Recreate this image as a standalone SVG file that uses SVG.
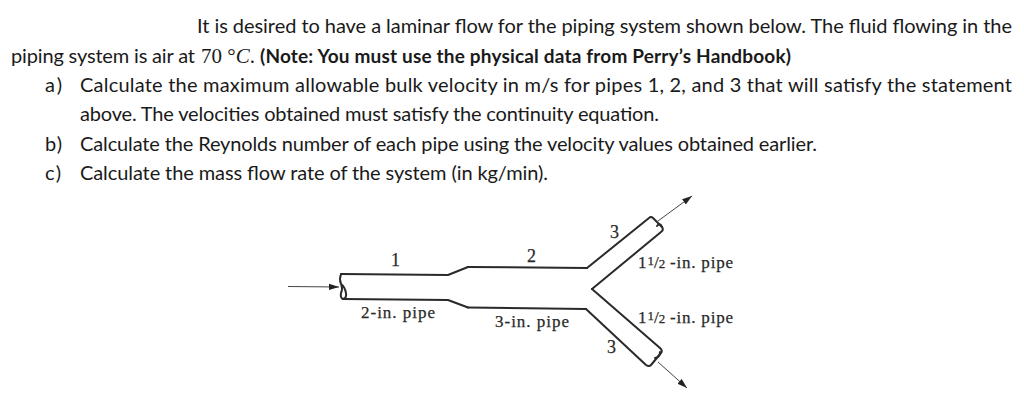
<svg xmlns="http://www.w3.org/2000/svg" width="1024" height="403" viewBox="0 0 1024 403">
<style>
.t{font-family:"Lato","Open Sans",sans-serif;font-size:20px;fill:#1a1a1a}
.b{font-weight:700;font-size:19px}
.m{font-family:"Liberation Serif",serif;font-size:21px;fill:#1a1a1a}
.s{font-family:"Liberation Serif",serif;font-size:17px;fill:#2a2a2a;stroke:#2a2a2a;stroke-width:.25}
.n{font-size:18px}
.p{fill:none;stroke:#2a2a2a;stroke-width:2;stroke-linejoin:round;stroke-linecap:round}
.a{fill:none;stroke:#444;stroke-width:1;marker-end:url(#h)}
</style>
<defs><marker id="h" markerUnits="userSpaceOnUse" markerWidth="11" markerHeight="8" refX="10" refY="4" orient="auto"><path d="M0 0.8L10 4L0 7.2Z" fill="#222"/></marker></defs>
<rect width="1024" height="403" fill="#fff"/>
<g id="question-text">
<text class="t" x="197" y="33" textLength="815">It is desired to have a laminar flow for the piping system shown below. The fluid flowing in the</text>
<text class="t" x="11" y="63" textLength="184">piping system is air at</text>
<text class="m" x="201" y="63">70 °<tspan font-style="italic">C</tspan>.</text>
<text class="t b" x="260" y="63" textLength="531">(Note: You must use the physical data from Perry’s Handbook)</text>
<text class="t" x="45" y="92" textLength="17">a)</text>
<text class="t" x="80" y="92" textLength="932">Calculate the maximum allowable bulk velocity in m/s for pipes 1, 2, and 3 that will satisfy the statement</text>
<text class="t" x="80" y="121" textLength="579">above. The velocities obtained must satisfy the continuity equation.</text>
<text class="t" x="45" y="151" textLength="17">b)</text>
<text class="t" x="80" y="151" textLength="737">Calculate the Reynolds number of each pipe using the velocity values obtained earlier.</text>
<text class="t" x="45" y="180" textLength="16">c)</text>
<text class="t" x="80" y="180" textLength="468">Calculate the mass flow rate of the system (in kg/min).</text>
</g>
<g id="connectors">
<path class="a" d="M288 286.500L339 287"/>
<path class="a" d="M658 221L692 196"/>
<path class="a" d="M658 362L687 388"/>
</g>
<g id="pipe-1">
<path class="p" d="M468 267L448 275L341 274"/>
<path class="p" d="M468 307.500L448 300L343 299"/>
<path class="p" d="M341 274Q339 279 341 284Q343 289 341 293Q340 298 343 299Q347 298 346 293Q345 287 341 284"/>
<text class="s n" x="391" y="266">1</text>
<text class="s" x="361" y="318" textLength="74">2-in. pipe</text>
</g>
<g id="pipe-2">
<path class="p" d="M468 267L587 268"/>
<path class="p" d="M468 307.500L586 309"/>
<text class="s n" x="527" y="262">2</text>
<text class="s" x="495" y="327" textLength="74">3-in. pipe</text>
</g>
<g id="pipe-3-upper">
<path class="p" d="M587 268L649 218Q651 216 653 218L662 227Q664 230 661 232L592 289"/>
<path class="p" d="M657 226Q660 222 662 227" stroke-width="1"/>
<text class="s n" x="610" y="238">3</text>
<text class="s" x="638" y="268">1<tspan font-size="13" dy="-3" dx="1">1</tspan><tspan dy="3">/</tspan><tspan font-size="13">2</tspan></text>
<text class="s" x="670" y="268" textLength="63">-in. pipe</text>
</g>
<g id="pipe-3-lower">
<path class="p" d="M592 289L660 348Q663 351 661 353L651 365Q649 367 646 365L586 309"/>
<path class="p" d="M655 358Q660 357 660 352" stroke-width="1"/>
<text class="s n" x="607" y="353">3</text>
<text class="s" x="638" y="323">1<tspan font-size="13" dy="-3" dx="1">1</tspan><tspan dy="3">/</tspan><tspan font-size="13">2</tspan></text>
<text class="s" x="670" y="323" textLength="63">-in. pipe</text>
</g>
</svg>
